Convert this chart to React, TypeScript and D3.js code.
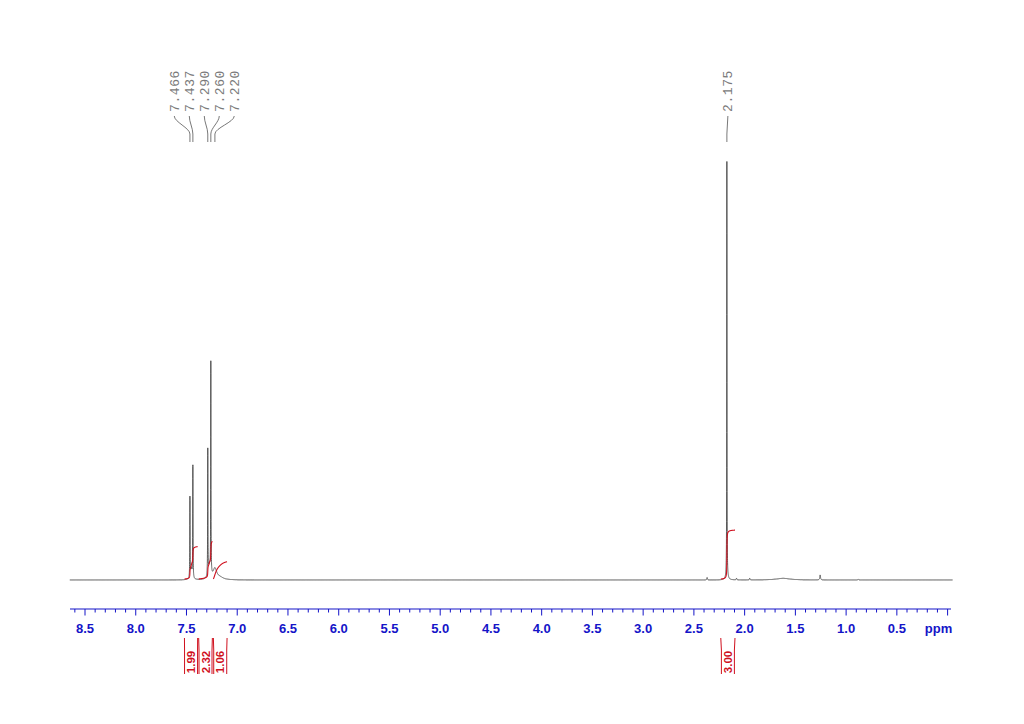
import React from "react";
import * as d3 from "d3";

// ---- Data ----
// Signal list (chemical shift, relative height where 2.175 ≈ 100, half-width in ppm)
const SIGNAL_PPM = [7.466, 7.437, 7.452, 7.29, 7.26, 7.275, 7.22, 7.17, 2.175, 2.175, 2.37, 2.08, 1.95, 1.62, 1.256, 0.88];
const SIGNAL_HEIGHT = [19.4, 27.0, 2.6, 30.4, 51.0, 3.0, 2.6, 0.5, 99.0, 1.6, 0.6, 0.4, 0.4, 0.4, 1.2, 0.2];
const SIGNAL_HWHM = [0.0016, 0.0016, 0.008, 0.0016, 0.0016, 0.01, 0.022, 0.04, 0.0013, 0.008, 0.003, 0.003, 0.003, 0.08, 0.004, 0.004];

// Peak picking labels
const PEAK_LABELS = ["7.466", "7.437", "7.290", "7.260", "7.220", "2.175"];
const PEAK_LABEL_PPM = [7.466, 7.437, 7.29, 7.26, 7.22, 2.175];

// Integrals
const INTEGRAL_FROM = [7.52, 7.38, 7.235, 2.235];
const INTEGRAL_TO = [7.39, 7.245, 7.1, 2.095];
const INTEGRAL_VALUES = ["1.99", "2.32", "1.06", "3.00"];

// Axis ticks
const MAJOR_TICKS = [8.5, 8.0, 7.5, 7.0, 6.5, 6.0, 5.5, 5.0, 4.5, 4.0, 3.5, 3.0, 2.5, 2.0, 1.5, 1.0, 0.5, 0.0];
const TICK_LABELS = ["8.5", "8.0", "7.5", "7.0", "6.5", "6.0", "5.5", "5.0", "4.5", "4.0", "3.5", "3.0", "2.5", "2.0", "1.5", "1.0", "0.5", "ppm"];
const PPM_MAX = 8.65;
const PPM_MIN = -0.05;

const BLUE = "#1414c8";
const RED = "#d0101e";

export default function App() {
  const x = d3.scaleLinear().domain([8.5, 0]).range([85, 947.6]);
  const y = d3.scaleLinear().domain([0, 100]).range([580, 164]);

  const intensity = (p: number) => {
    let s = 0;
    for (let i = 0; i < SIGNAL_PPM.length; i++) {
      const d = (p - SIGNAL_PPM[i]) / SIGNAL_HWHM[i];
      s += SIGNAL_HEIGHT[i] / (1 + d * d);
    }
    return s;
  };

  // sample grid (high ppm -> low ppm) including exact signal positions
  const grid: number[] = [];
  for (let p = PPM_MAX; p >= PPM_MIN; p -= 0.0004) grid.push(p);
  SIGNAL_PPM.forEach((p) => grid.push(p));
  grid.sort((a, b) => b - a);
  const pts: [number, number][] = grid.map((p) => [p, intensity(p)]);

  const line = d3
    .line<[number, number]>()
    .x((d) => x(d[0]))
    .y((d) => y(d[1]));
  const specPath = line(pts) || "";

  // integrals
  const pxPerUnit = 16.3;
  const intBase = 579;
  const integralPaths = INTEGRAL_FROM.map((from, k) => {
    const to = INTEGRAL_TO[k];
    const seg = pts.filter((d) => d[0] <= from && d[0] >= to);
    const cum: [number, number][] = [];
    let acc = 0;
    for (let i = 0; i < seg.length; i++) {
      if (i > 0) acc += ((seg[i - 1][1] + seg[i][1]) / 2) * (seg[i - 1][0] - seg[i][0]);
      cum.push([seg[i][0], acc]);
    }
    const total = acc || 1;
    const h = parseFloat(INTEGRAL_VALUES[k]) * pxPerUnit;
    return (
      d3
        .line<[number, number]>()
        .x((d) => x(d[0]))
        .y((d) => intBase - (d[1] / total) * h)(cum) || ""
    );
  });

  // label columns: spread clustered labels with minimum spacing
  const spacing = 15;
  const peakX = PEAK_LABEL_PPM.map((p) => x(p));
  const clusters: number[][] = [];
  peakX.forEach((px, i) => {
    const last = clusters[clusters.length - 1];
    if (last && Math.abs(px - peakX[last[last.length - 1]]) < 40) last.push(i);
    else clusters.push([i]);
  });
  const labelX: number[] = new Array(peakX.length).fill(0);
  clusters.forEach((c) => {
    const mean = d3.mean(c, (i) => peakX[i]) as number;
    const start = mean + 1 - ((c.length - 1) * spacing) / 2;
    c.forEach((i, j) => (labelX[i] = start + j * spacing));
  });

  const minorTicks: number[] = [];
  for (let v = 86; v >= 0; v--) {
    if (v % 5 !== 0) minorTicks.push(v / 10);
  }

  return (
    <svg
      width={1024}
      height={724}
      style={{ position: "absolute", left: 0, top: 0, background: "#fff" }}
    >
      <rect width={1024} height={724} fill="#fff" />
      {/* spectrum */}
      <path d={specPath} fill="none" stroke="#3a3a3a" strokeWidth={0.8} />

      {/* integrals */}
      {integralPaths.map((d, k) => (
        <path key={"int" + k} d={d} fill="none" stroke={RED} strokeWidth={1.1} />
      ))}

      {/* peak labels */}
      {PEAK_LABELS.map((t, i) => {
        const lx = labelX[i];
        const px = peakX[i];
        return (
          <g key={"pl" + i}>
            <path
              d={`M${lx},116 C${lx},122 ${px},128 ${px},134 L${px},142`}
              fill="none"
              stroke="#555"
              strokeWidth={0.8}
            />
            <text
              transform={`translate(${lx},112) rotate(-90)`}
              dy="0.35em"
              fontFamily="'Liberation Mono', 'DejaVu Sans Mono', monospace"
              fontSize={13}
              letterSpacing={0.6}
              fill="#7a7a7a"
            >
              {t}
            </text>
          </g>
        );
      })}

      {/* x axis */}
      <line x1={70} x2={951} y1={609} y2={609} stroke={BLUE} strokeWidth={1.2} />
      {minorTicks.map((v) => (
        <line key={"mt" + v} x1={x(v)} x2={x(v)} y1={609} y2={612.5} stroke={BLUE} strokeWidth={1} />
      ))}
      {MAJOR_TICKS.map((v, i) => (
        <g key={"MT" + i}>
          <line x1={x(v)} x2={x(v)} y1={609} y2={615.5} stroke={BLUE} strokeWidth={1} />
          <text
            x={i === MAJOR_TICKS.length - 1 ? x(v) - 9 : x(v)}
            y={633}
            textAnchor="middle"
            fontFamily="'Liberation Sans', Arial, sans-serif"
            fontWeight="bold"
            fontSize={13}
            fill={BLUE}
          >
            {TICK_LABELS[i]}
          </text>
        </g>
      ))}

      {/* integral labels */}
      {INTEGRAL_VALUES.map((t, k) => {
        const x1 = x(INTEGRAL_FROM[k]);
        const x2 = x(INTEGRAL_TO[k]);
        const mid = (x1 + x2) / 2;
        const l = mid - 6.5;
        const r = mid + 6.5;
        return (
          <g key={"il" + k}>
            <path d={`M${x1},638 L${l},650 L${l},674`} fill="none" stroke={RED} strokeWidth={1} />
            <path d={`M${x2},638 L${r},650 L${r},674`} fill="none" stroke={RED} strokeWidth={1} />
            <text
              transform={`translate(${mid},662) rotate(-90)`}
              dy="0.36em"
              textAnchor="middle"
              fontFamily="'Liberation Sans', Arial, sans-serif"
              fontWeight="bold"
              fontSize={11.5}
              fill={RED}
            >
              {t}
            </text>
          </g>
        );
      })}
    </svg>
  );
}
